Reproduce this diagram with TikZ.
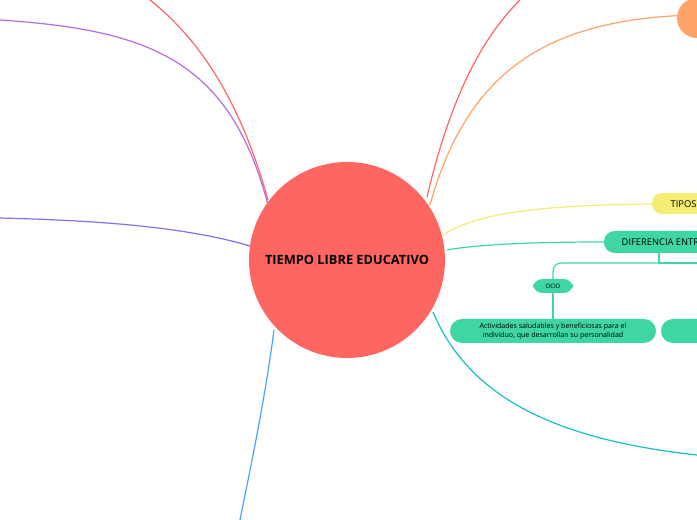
\documentclass[tikz,border=0pt]{standalone}
\usepackage{fontspec}
\setmainfont{Open Sans}
\definecolor{cred}{HTML}{FF6661}
\definecolor{corange}{HTML}{FFA366}
\definecolor{cpurple}{HTML}{B36BE6}
\definecolor{cviolet}{HTML}{8C6BF2}
\definecolor{cblue}{HTML}{4DA3F2}
\definecolor{ccyan}{HTML}{17BFC4}
\definecolor{cyellow}{HTML}{F5EC73}
\definecolor{cgreen}{HTML}{3ED6A2}
\begin{document}
\begin{tikzpicture}[x=0.75pt,y=-0.75pt,
  conn/.style={line width=0.9pt}]
\useasboundingbox (0,0) rectangle (697,520);
\clip (0,0) rectangle (697,520);
\fill[white] (0,0) rectangle (697,520);
% connectors
\draw[conn,cred] (268,200) .. controls (240,100) and (200,40) .. (150,0);
\draw[conn,cred] (427,197) .. controls (450,100) and (480,40) .. (520,0);
\draw[conn,corange] (430,205) .. controls (470,60) and (560,20) .. (690,15);
\draw[conn,cpurple] (268,205) .. controls (230,60) and (150,30) .. (0,20);
\draw[conn,cviolet] (250,246) .. controls (180,225) and (80,220) .. (0,218);
\draw[conn,cblue] (274,330) .. controls (265,400) and (250,470) .. (240,520);
\draw[conn,ccyan] (433,312) .. controls (470,400) and (560,440) .. (697,455);
\draw[conn,cyellow] (443,235) .. controls (480,210) and (560,205) .. (652,204);
\draw[conn,cgreen] (447,250) .. controls (480,244) and (540,242) .. (604,242);
\draw[conn,cgreen] (659,253) -- (659,263) -- (697,263);
\draw[conn,cgreen] (659,263) -- (562,263) .. controls (556,263) and (553,266) .. (553,272) -- (553,280);
\draw[conn,cgreen] (553,292) -- (553,319);
% nodes
\node[circle,fill=cred,minimum size=196pt*0.75,inner sep=0pt,font=\bfseries\fontsize{9.6}{11}\selectfont] (c) at (347,260) {TIEMPO LIBRE EDUCATIVO};
\fill[corange] (697,18) circle (20);
\fill[cyellow,rounded corners=7.5pt] (652,193) rectangle (720,214);
\node[anchor=west,font=\fontsize{7}{8}\selectfont] (tipos) at (666,204) {TIPOS I};
\fill[cgreen,rounded corners=8pt] (604,231) rectangle (740,253);
\node[anchor=west,font=\fontsize{7}{8}\selectfont] (dif) at (617,242) {DIFERENCIA ENTRE};
\fill[cgreen,rounded corners=7pt] (533,279) rectangle (573,293);
\node[font=\fontsize{4.5}{5}\selectfont] (ocio) at (553,286) {OCIO};
\fill[cgreen,rounded corners=9pt] (450,319) rectangle (656,343);
\node[align=center,font=\fontsize{5.3}{7}\selectfont] (act) at (553,331) {Actividades saludables y beneficiosas para el\\individuo, que desarrollan su personalidad};
\fill[cgreen,rounded corners=9pt] (661,319) rectangle (760,343);
\end{tikzpicture}
\end{document}
